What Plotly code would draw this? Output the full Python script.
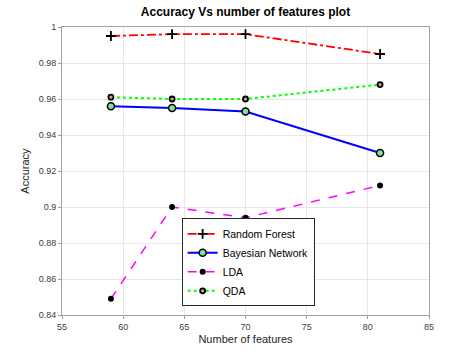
import plotly.graph_objects as go

features = [59, 64, 70, 81]
rf = [0.995, 0.996, 0.996, 0.985]
bn = [0.956, 0.955, 0.953, 0.930]
lda = [0.849, 0.900, 0.894, 0.912]
qda = [0.961, 0.960, 0.960, 0.968]

x_ticks = [55, 60, 65, 70, 75, 80, 85]
y_ticks = [0.84, 0.86, 0.88, 0.9, 0.92, 0.94, 0.96, 0.98, 1]
y_tick_text = ["0.84", "0.86", "0.88", "0.9", "0.92", "0.94", "0.96", "0.98", "1"]

fig = go.Figure()
fig.add_trace(go.Scatter(x=features, y=rf, name="Random Forest", mode="lines+markers",
                         line=dict(color="#ff0000", width=1.8, dash="dashdot"),
                         marker=dict(symbol="cross-thin", size=7, line=dict(color="black", width=1.8))))
fig.add_trace(go.Scatter(x=features, y=bn, name="Bayesian Network", mode="lines+markers",
                         line=dict(color="#0000ff", width=2),
                         marker=dict(symbol="circle", size=7, color="#80e0a0", line=dict(color="black", width=1.5))))
fig.add_trace(go.Scatter(x=features, y=lda, name="LDA", mode="lines+markers",
                         line=dict(color="#ff00ff", width=1.5, dash="dash"),
                         marker=dict(symbol="circle", size=6, color="black")))
fig.add_trace(go.Scatter(x=features, y=qda, name="QDA", mode="lines+markers",
                         line=dict(color="#00ff00", width=2, dash="dot"),
                         marker=dict(symbol="circle", size=5, color="#d0a0a0", line=dict(color="black", width=1.8))))

axis_common = dict(showgrid=True, gridcolor="#e6e6e6", gridwidth=1, showline=True, linecolor="#a0a0a0",
                   linewidth=1, mirror=True, ticks="outside", ticklen=3, tickcolor="#a0a0a0",
                   tickfont=dict(family="Liberation Sans, Arial", size=9, color="#404040"), zeroline=False)

fig.update_layout(
    width=474, height=355,
    margin=dict(l=62, r=45, t=27, b=38),
    paper_bgcolor="white", plot_bgcolor="white",
    title=dict(text="<b>Accuracy Vs number of features plot</b>", x=0.5, xanchor="center", xref="paper",
               y=1, yref="container", yanchor="top", pad=dict(t=8),
               font=dict(family="Liberation Sans, Arial", size=12, color="black")),
    xaxis=dict(range=[55, 85], tickvals=x_ticks,
               title=dict(text="Number of features", standoff=4,
                          font=dict(family="Liberation Sans, Arial", size=11, color="#262626")),
               **axis_common),
    yaxis=dict(range=[0.84, 1], tickvals=y_ticks, ticktext=y_tick_text,
               title=dict(text="Accuracy", standoff=6,
                          font=dict(family="Liberation Sans, Arial", size=11, color="#262626")),
               **axis_common),
    legend=dict(x=0.326, y=0.03, xanchor="left", yanchor="bottom",
                bordercolor="#262626", borderwidth=1, bgcolor="white",
                font=dict(family="Liberation Sans, Arial", size=10.5, color="black"),
                tracegroupgap=0, itemwidth=30),
    showlegend=True,
)

fig.write_html("out.html")
